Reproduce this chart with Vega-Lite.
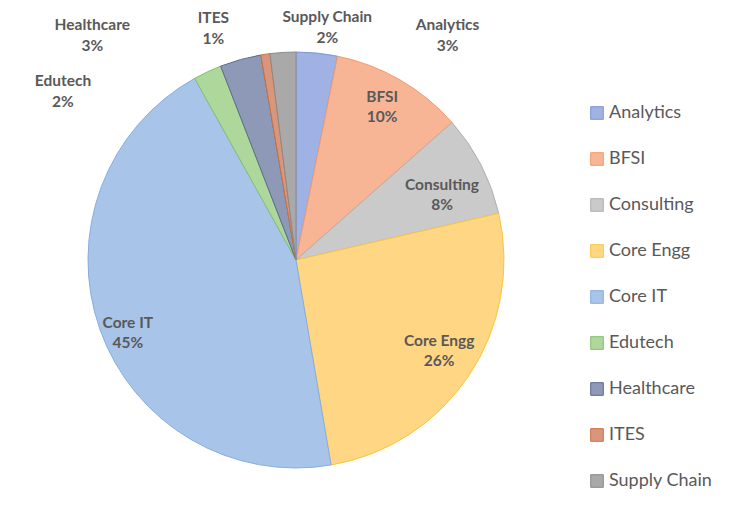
{
  "$schema": "https://vega.github.io/schema/vega-lite/v6.json",
  "width": 592,
  "height": 520,
  "padding": 0,
  "autosize": {"type": "pad"},
  "background": "#ffffff",
  "view": {"stroke": null},
  "data": {
    "values": [
      {"category": "Analytics", "share": 3.2},
      {"category": "BFSI", "share": 10.3},
      {"category": "Consulting", "share": 7.9},
      {"category": "Core Engg", "share": 25.9},
      {"category": "Core IT", "share": 44.6},
      {"category": "Edutech", "share": 2.2},
      {"category": "Healthcare", "share": 3.2},
      {"category": "ITES", "share": 0.7},
      {"category": "Supply Chain", "share": 2.0}
    ]
  },
  "transform": [
    {"stack": "share", "groupby": [], "sort": [{"field": "category", "order": "ascending"}], "as": ["s0", "s1"]},
    {"calculate": "(datum.s0 + datum.s1) / 2", "as": "mid"},
    {"calculate": "datum.category + '\\n' + format(datum.share, '.0f') + '%'", "as": "label"}
  ],
  "layer": [
    {
      "mark": {"type": "arc", "outerRadius": 208, "strokeWidth": 1},
      "encoding": {
        "theta": {"field": "s0", "type": "quantitative", "scale": {"domain": [0, 100]}},
        "theta2": {"field": "s1"},
        "color": {
          "field": "category", "type": "nominal",
          "scale": {
            "domain": ["Analytics", "BFSI", "Consulting", "Core Engg", "Core IT", "Edutech", "Healthcare", "ITES", "Supply Chain"],
            "range": ["#a0b1e3", "#f8b596", "#cacaca", "#ffd684", "#a8c4e8", "#aed79c", "#8d99b7", "#d8977c", "#a9a9a9"]
          }
        },
        "stroke": {
          "field": "category", "type": "nominal",
          "scale": {
            "domain": ["Analytics", "BFSI", "Consulting", "Core Engg", "Core IT", "Edutech", "Healthcare", "ITES", "Supply Chain"],
            "range": ["#7d97d6", "#f39a6a", "#b0b0b0", "#fcc53a", "#86addf", "#84c06a", "#5a6b8c", "#d0703e", "#8a8a8a"]
          }
        }
      }
    },
    {
      "transform": [{"filter": "datum.category == 'BFSI' || datum.category == 'Core Engg'"}],
      "mark": {"type": "text", "radius": 172, "dy": -14, "font": "Lato", "fontSize": 15.5, "fontWeight": "bold", "lineBreak": "\n", "lineHeight": 20, "fill": "#595959", "align": "center", "baseline": "middle"},
      "encoding": {
        "theta": {"field": "mid", "type": "quantitative", "stack": null},
        "text": {"field": "label", "type": "nominal"}
      }
    },
    {
      "transform": [{"filter": "datum.category == 'Consulting'"}],
      "mark": {"type": "text", "radius": 172, "dx": -7, "dy": 4, "font": "Lato", "fontSize": 15.5, "fontWeight": "bold", "lineBreak": "\n", "lineHeight": 20, "fill": "#595959", "align": "center", "baseline": "middle"},
      "encoding": {
        "theta": {"field": "mid", "type": "quantitative", "stack": null},
        "text": {"field": "label", "type": "nominal"}
      }
    },
    {
      "transform": [{"filter": "datum.category == 'Core IT'"}],
      "mark": {"type": "text", "radius": 172, "dx": -6, "dy": 6, "font": "Lato", "fontSize": 15.5, "fontWeight": "bold", "lineBreak": "\n", "lineHeight": 20, "fill": "#595959", "align": "center", "baseline": "middle"},
      "encoding": {
        "theta": {"field": "mid", "type": "quantitative", "stack": null},
        "text": {"field": "label", "type": "nominal"}
      }
    },
    {
      "transform": [{"filter": "datum.category == 'Analytics'"}],
      "mark": {"type": "text", "radius": 235, "dx": 128, "dy": -1, "font": "Lato", "fontSize": 15.5, "fontWeight": "bold", "lineBreak": "\n", "lineHeight": 21, "fill": "#595959", "align": "center", "baseline": "middle"},
      "encoding": {
        "theta": {"field": "mid", "type": "quantitative", "stack": null},
        "text": {"field": "label", "type": "nominal"}
      }
    },
    {
      "transform": [{"filter": "datum.category == 'Supply Chain'"}],
      "mark": {"type": "text", "radius": 235, "dx": 46, "dy": -8, "font": "Lato", "fontSize": 15.5, "fontWeight": "bold", "lineBreak": "\n", "lineHeight": 21, "fill": "#595959", "align": "center", "baseline": "middle"},
      "encoding": {
        "theta": {"field": "mid", "type": "quantitative", "stack": null},
        "text": {"field": "label", "type": "nominal"}
      }
    },
    {
      "transform": [{"filter": "datum.category == 'ITES'"}],
      "mark": {"type": "text", "radius": 235, "dx": -48, "dy": -10, "font": "Lato", "fontSize": 15.5, "fontWeight": "bold", "lineBreak": "\n", "lineHeight": 21, "fill": "#595959", "align": "center", "baseline": "middle"},
      "encoding": {
        "theta": {"field": "mid", "type": "quantitative", "stack": null},
        "text": {"field": "label", "type": "nominal"}
      }
    },
    {
      "transform": [{"filter": "datum.category == 'Healthcare'"}],
      "mark": {"type": "text", "radius": 235, "dx": -141, "dy": -9, "font": "Lato", "fontSize": 15.5, "fontWeight": "bold", "lineBreak": "\n", "lineHeight": 21, "fill": "#595959", "align": "center", "baseline": "middle"},
      "encoding": {
        "theta": {"field": "mid", "type": "quantitative", "stack": null},
        "text": {"field": "label", "type": "nominal"}
      }
    },
    {
      "transform": [{"filter": "datum.category == 'Edutech'"}],
      "mark": {"type": "text", "radius": 235, "dx": -133, "dy": 34, "font": "Lato", "fontSize": 15.5, "fontWeight": "bold", "lineBreak": "\n", "lineHeight": 21, "fill": "#595959", "align": "center", "baseline": "middle"},
      "encoding": {
        "theta": {"field": "mid", "type": "quantitative", "stack": null},
        "text": {"field": "label", "type": "nominal"}
      }
    }
  ],
  "config": {
    "legend": {
      "orient": "none",
      "legendX": 588,
      "legendY": 104,
      "title": null,
      "symbolType": "square",
      "symbolSize": 160,
      "symbolStrokeWidth": 1,
      "labelFont": "Lato",
      "labelFontSize": 18,
      "labelColor": "#595959",
      "labelOffset": 3,
      "rowPadding": 28,
      "padding": 0
    }
  }
}
